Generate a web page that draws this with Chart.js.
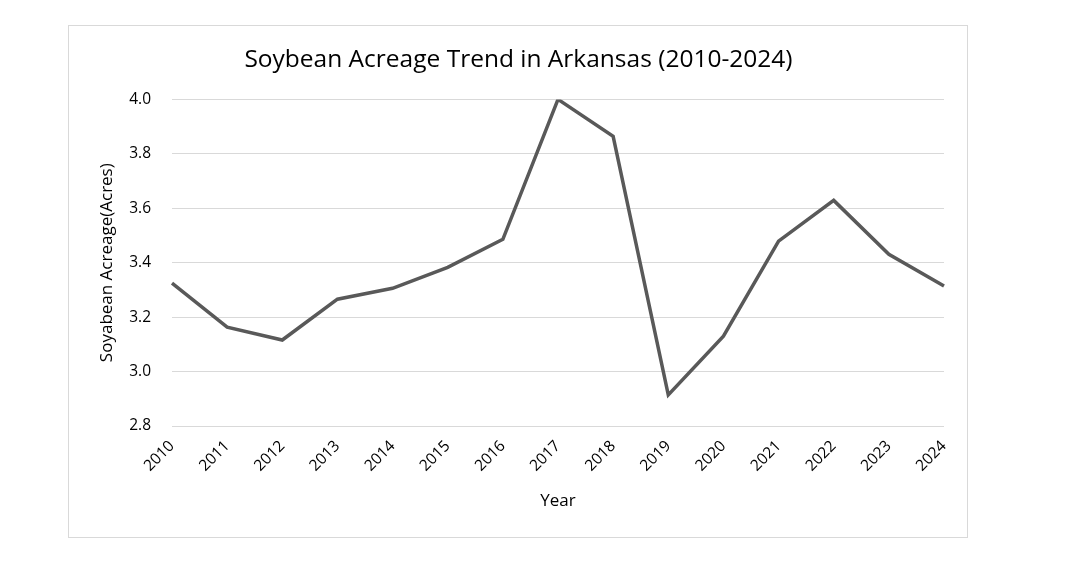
<!DOCTYPE html>
<html>
<head>
<meta charset="utf-8">
<script src="https://cdn.jsdelivr.net/npm/chart.js@4"></script>
<style>
  html, body { margin: 0; padding: 0; background: #fff; }
  #box {
    position: absolute; left: 68px; top: 25px;
    width: 898px; height: 511px;
    border: 1px solid #d9d9d9;
  }
</style>
</head>
<body>
<div id="box"><canvas id="chart" width="898" height="511"></canvas></div>
<script>
const years = ['2010', '2011', '2012', '2013', '2014', '2015', '2016', '2017',
  '2018', '2019', '2020', '2021', '2022', '2023', '2024'];
const acreage = [3.325, 3.163, 3.116, 3.266, 3.306, 3.383, 3.486, 4.0,
  3.864, 2.914, 3.130, 3.479, 3.629, 3.431, 3.314];
const yTicks = [2.8, 3.0, 3.2, 3.4, 3.6, 3.8, 4.0];

const fontFamily = "'Open Sans', 'Noto Sans', sans-serif";

const ctx = document.getElementById('chart').getContext('2d');
window.acreChart = new Chart(ctx, {
  type: 'line',
  data: {
    labels: years,
    datasets: [{
      label: 'Soyabean Acreage',
      data: acreage,
      borderColor: '#595959',
      borderWidth: 3.5,
      pointRadius: 0,
      tension: 0,
      fill: false
    }]
  },
  options: {
    responsive: false,
    animation: false,
    layout: { padding: { left: 24, right: 23, top: 0, bottom: 22 } },
    plugins: {
      legend: { display: false },
      tooltip: { enabled: false },
      title: {
        display: true,
        text: 'Soybean Acreage Trend in Arkansas (2010-2024)',
        color: '#000',
        font: { family: fontFamily, size: 24.5, weight: 'normal' },
        padding: { top: 19, bottom: 25 }
      }
    },
    scales: {
      x: {
        offset: false,
        grid: { display: false },
        border: { display: false },
        ticks: {
          color: '#000',
          font: { family: fontFamily, size: 15.5 },
          maxRotation: 45,
          minRotation: 45,
          padding: 3,
          autoSkip: false
        },
        title: {
          display: true,
          text: 'Year',
          color: '#000',
          font: { family: fontFamily, size: 17 },
          padding: 4
        },
        afterFit: function (scale) { scale.height = 89; }
      },
      y: {
        min: 2.8,
        max: 4.0,
        afterBuildTicks: function (scale) {
          scale.ticks = yTicks.map(v => ({ value: v }));
        },
        grid: { color: '#d9d9d9', lineWidth: 1, drawTicks: false },
        border: { display: false },
        ticks: {
          color: '#000',
          font: { family: fontFamily, size: 15.5 },
          padding: 21,
          callback: v => Number(v).toFixed(1)
        },
        title: {
          display: true,
          text: 'Soyabean Acreage(Acres)',
          color: '#000',
          font: { family: fontFamily, size: 17 },
          padding: 4
        },
        afterFit: function (scale) { scale.width = 79; }
      }
    }
  }
});
</script>
</body>
</html>
